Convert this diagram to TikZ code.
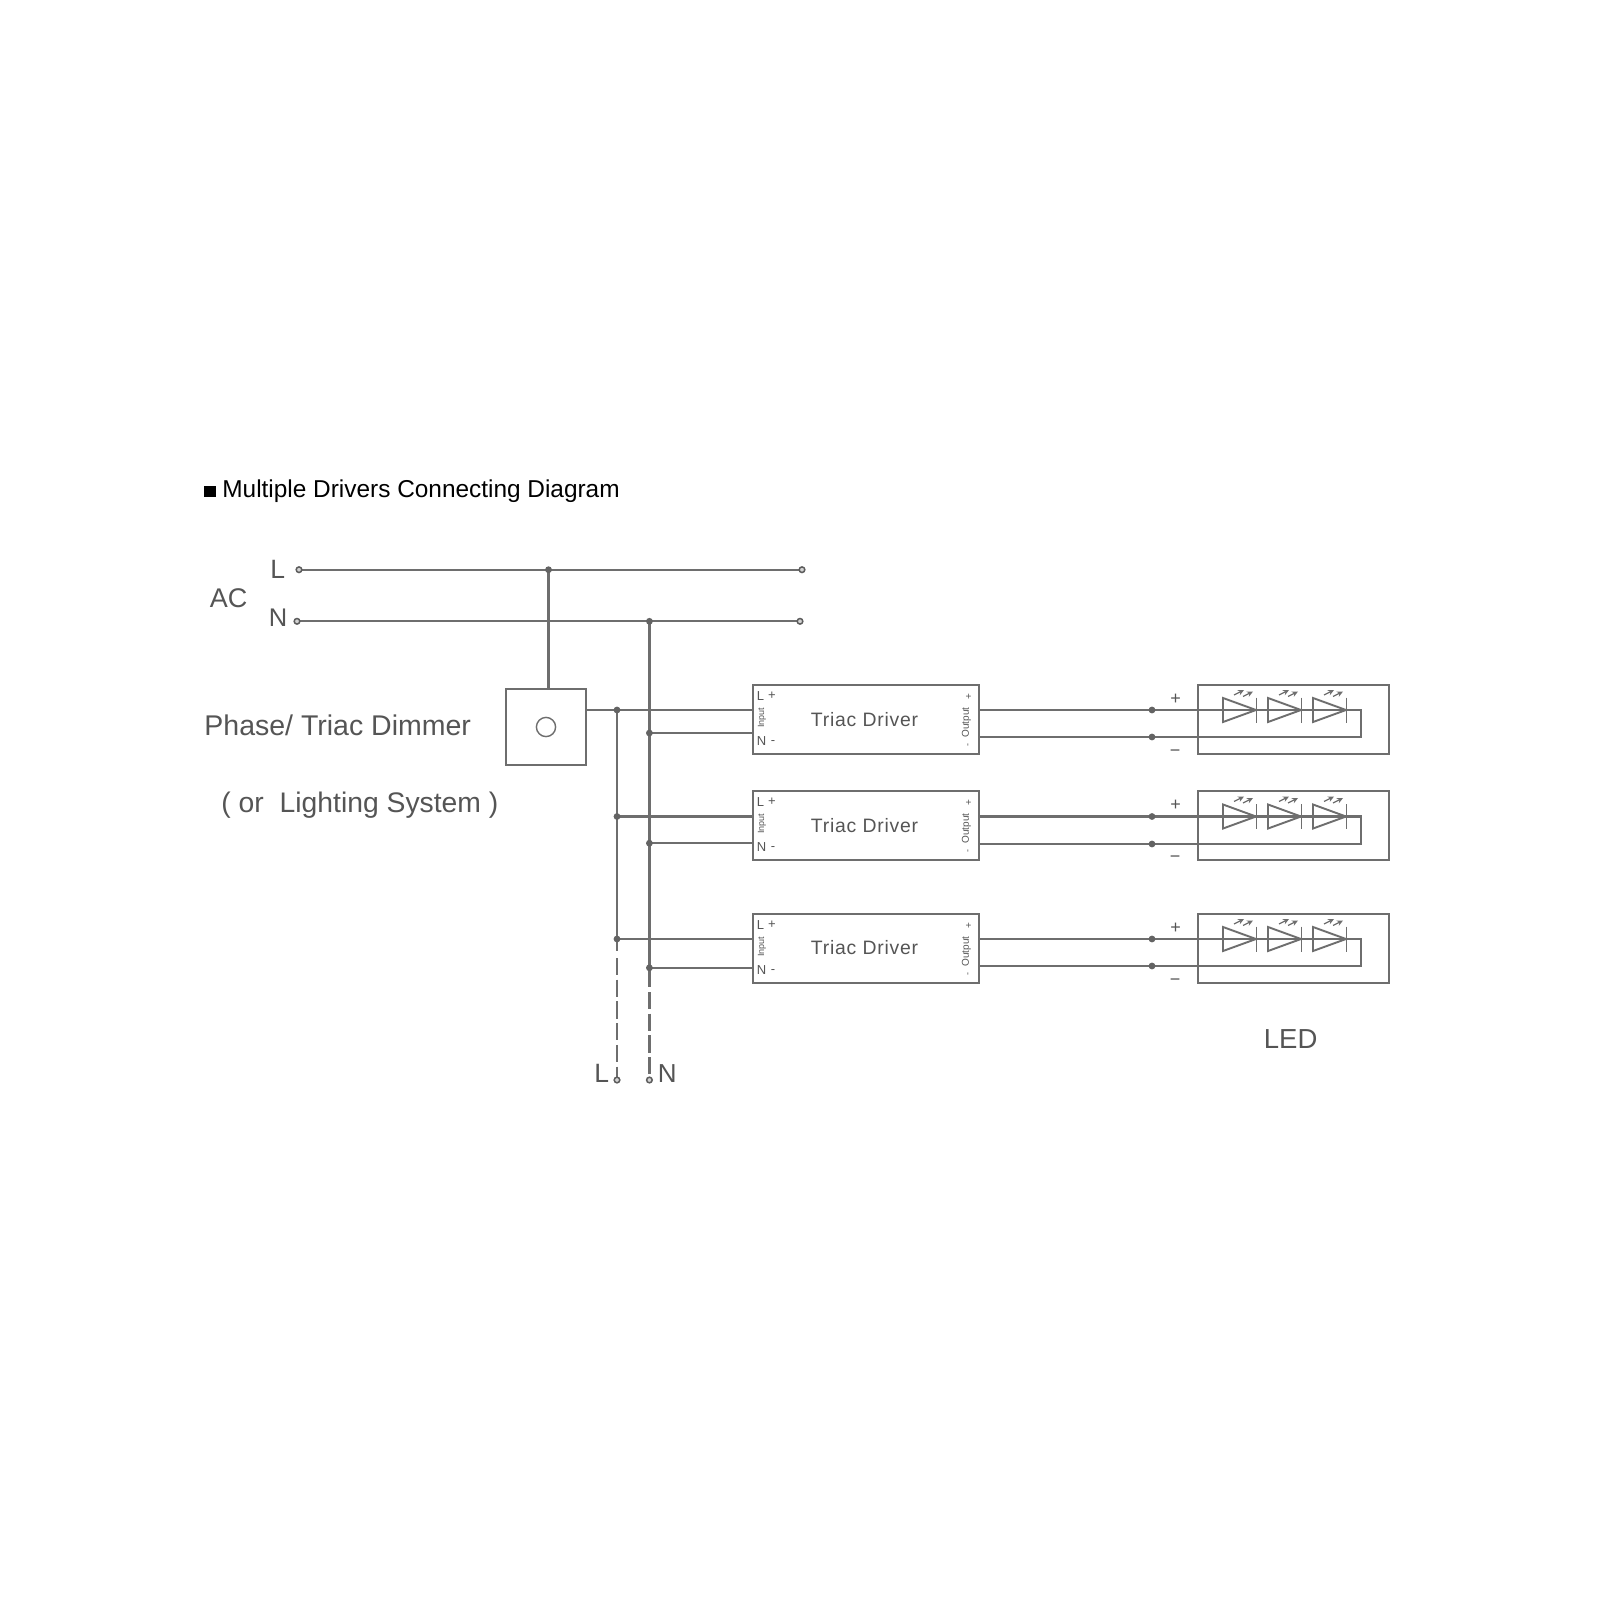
\documentclass[tikz,border=0pt]{standalone}
\usepackage{fontspec}
\setmainfont{Liberation Sans}
\usetikzlibrary{arrows.meta,calc}
\definecolor{wire}{HTML}{6E6E6E}
\definecolor{ink}{HTML}{555555}
\newcommand{\px}[1]{\fontsize{\dimexpr #1pt/2\relax}{\dimexpr #1pt*3/5\relax}\selectfont}
\tikzset{
  x=0.5pt,y=-0.5pt,
  wireline/.style={draw=wire,line width=1.1pt},
  thinwire/.style={draw=wire,line width=0.95pt},
  dashwire/.style={draw=wire,line width=1.1pt,dash pattern=on 8.6pt off 2.25pt},
  boxed/.style={draw=wire,line width=1.15pt,rectangle,fill=white,inner sep=0pt},
  terminal/.style={circle,draw=wire!85!black,line width=0.75pt,fill=wire!30,minimum size=2.8pt,inner sep=0pt},
  jdot/.style={circle,fill=wire!90!black,minimum size=3.4pt,inner sep=0pt},
  symline/.style={draw=wire,line width=0.95pt},
  ray/.style={draw=wire,line width=0.65pt,-{Stealth[length=3pt,width=2.8pt]}},
  label/.style={text=ink,inner sep=0pt,anchor=base west},
  tiny/.style={text=ink,inner sep=0pt,anchor=center},
}
\begin{document}
\begin{tikzpicture}
\useasboundingbox (0,0) rectangle (1600,1600);
\fill[white] (0,0) rectangle (1600,1600);
% title
\node[inner sep=0pt,anchor=base west] (title) at (204,497) {\px{24.4}\textcolor{black}{\raisebox{0.2pt}{\rule{6pt}{5.4pt}}\hspace{3pt}Multiple Drivers Connecting Diagram}};
% labels
\node[label] (ac) at (209.5,607) {\px{27}AC};
\node[label] (acl) at (270,578) {\px{26.5}L};
\node[label] (acn) at (268.5,626) {\px{25.5}N};
\node[label] (dimlabel) at (204,735.5) {\px{28.5}Phase/ Triac Dimmer};
\node[label] (orlabel) at (221,812) {\px{28.3}( or\hspace{4pt} Lighting System )};
\node[label] (ledlabel) at (1263.5,1048) {\px{27.5}LED};
\node[label] (busl) at (594,1082) {\px{26.5}L};
\node[label] (busn) at (657.5,1082) {\px{26}N};
% terminals
\coordinate (lstart) at (299,569.7);
\coordinate (lend) at (802,569.7);
\coordinate (nstart) at (297,621.3);
\coordinate (nend) at (800,621.3);
\coordinate (jl) at (548.5,569.7);
\coordinate (jn) at (649.4,621.3);
% dimmer
\node[boxed,minimum width=40pt,minimum height=38pt] (dim) at (545.7,726.7) {};
\node[circle,draw=wire,line width=0.7pt,minimum size=9.6pt,inner sep=0pt] (knob) at (546,727) {};
\draw[wireline] (lstart) -- (lend);
\draw[thinwire] (nstart) -- (nend);
\draw[wireline] (jl) -- (jl |- dim.north);
\coordinate (ltop) at (617,710);
\coordinate (lfoot) at (617,1080);
\coordinate (nfoot) at (649.4,1080);
\coordinate (lsolid) at (617,951);
\coordinate (nsolid) at (649.4,987);
\coordinate (ldash) at (617,958);
\coordinate (ndash) at (649.4,992);
\draw[wireline] (jn) -- (nsolid);
\draw[wireline] (ltop) -- (lsolid);
\draw[dashwire] (ldash) -- (lfoot);
\draw[dashwire] (ndash) -- (nfoot);
\node[jdot] (jlnode) at (jl) {};
\node[jdot] (jnnode) at (jn) {};
\node[terminal] (t1) at (lstart) {};
\node[terminal] (t2) at (lend) {};
\node[terminal] (t3) at (nstart) {};
\node[terminal] (t4) at (nend) {};
\node[terminal] (t5) at (lfoot) {};
\node[terminal] (t6) at (nfoot) {};
% rows
\foreach \r/\t/\lw/\nw/\ow/\ty in {1/685/710/733/737/720,2/791/816.5/843.2/844/826,3/914/939/967.8/966/947.5}{
  \pgfmathsetmacro{\cy}{\t+34.6}
  \node[boxed,minimum width=113pt,minimum height=34.6pt] (drv\r) at (865.7,\cy) {};
  \node[boxed,minimum width=95.5pt,minimum height=34.6pt] (led\r) at (1293.8,\cy) {};
  \node[tiny] at (864.5,\ty) {\px{19.4}\addfontfeature{LetterSpace=4}Triac Driver};
  \node[tiny,anchor=base west] at (756.5,\t+15.5) {\px{13}L};
  \node[tiny] at (772,\t+11) {\px{13}+};
  \node[tiny,anchor=base west] at (756.5,\t+60.5) {\px{13}N};
  \node[tiny] at (773,\t+57.5) {\px{13}-};
  \node[tiny,rotate=90] at (762,\t+32.5) {\px{9}Input};
  \node[tiny,rotate=90] at (966.5,\t+37.5) {\px{10}Output};
  \node[tiny,rotate=90] at (969,\t+12) {\px{10}+};
  \node[tiny,rotate=90] at (969,\t+60) {\px{9}-};
  \node[tiny] at (1175.5,\t+14) {\px{18}+};
  \node[tiny] at (1175,\t+68.5) {\px{18}−};
  % wires
  \coordinate (jl\r) at (617,\lw);
  \coordinate (jn\r) at (649.4,\nw);
  \coordinate (ol\r) at (1152,\lw);
  \coordinate (on\r) at (1152,\ow);
  \coordinate (retb\r) at (1361,\ow);
  \coordinate (rett\r) at (1361,\lw);
  \ifnum\r=1
    \draw[wireline] (dim.east |- jl\r) -- (jl\r);
  \fi
  \draw[wireline] (jl\r) -- (drv\r.west |- jl\r);
  \draw[thinwire] (jn\r) -- (drv\r.west |- jn\r);
  \draw[wireline] (drv\r.east |- ol\r) -- (ol\r) -- (rett\r) -- (retb\r) -- (on\r) -- (drv\r.east |- on\r);
  \node[jdot] at (jl\r) {};
  \node[jdot] at (jn\r) {};
  \node[jdot] at (ol\r) {};
  \node[jdot] at (on\r) {};
  % LED symbols
  \foreach \xx in {1223,1268,1313}{
    \draw[symline,line join=miter] (\xx,\lw-12) -- (\xx+33,\lw) -- (\xx,\lw+12) -- cycle;
    \draw[symline] (\xx+33.5,\lw-12.5) -- (\xx+33.5,\lw+12.5);
    \draw[ray] (\xx+11,\lw-15) -- (\xx+21,\lw-20);
    \draw[ray] (\xx+20,\lw-13.5) -- (\xx+30,\lw-18.5);
  }
}
\end{tikzpicture}
\end{document}
